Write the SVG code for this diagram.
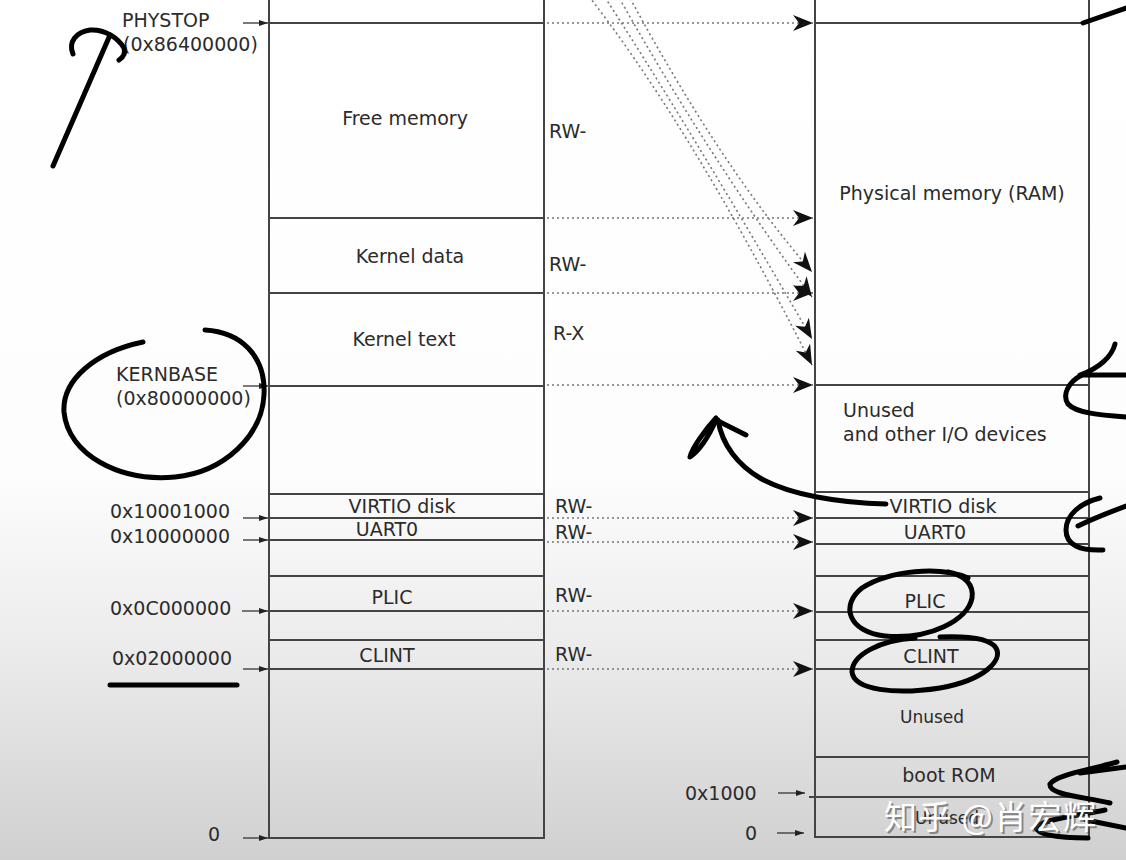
<svg xmlns="http://www.w3.org/2000/svg" width="1126" height="860" viewBox="0 0 1126 860">
<defs>
<linearGradient id="bg" x1="0" y1="0" x2="0" y2="1">
<stop offset="0" stop-color="#ffffff"/>
<stop offset="0.55" stop-color="#fdfdfd"/>
<stop offset="0.75" stop-color="#ececec"/>
<stop offset="1" stop-color="#d0d0d0"/>
</linearGradient>
<marker id="big" markerUnits="userSpaceOnUse" markerWidth="22" markerHeight="16" refX="20" refY="8" orient="auto">
<path d="M0,0 L20,8 L0,16 L6,8 z" fill="#111"/>
</marker>
<marker id="small" markerUnits="userSpaceOnUse" markerWidth="10" markerHeight="8" refX="9" refY="4" orient="auto">
<path d="M0,1 L9,4 L0,7 z" fill="#222"/>
</marker>
<style>
.t{font-family:"DejaVu Sans","Liberation Sans",sans-serif;font-size:19px;fill:#2b2b2b}
.m{text-anchor:middle}
.box{fill:none;stroke:#444;stroke-width:2}
.ln{stroke:#444;stroke-width:2}
.dot{fill:none;stroke:#777;stroke-width:1.6;stroke-dasharray:2 3}
.lab{stroke:#333;stroke-width:1.3}
.hand{fill:none;stroke:#000;stroke-width:5;stroke-linecap:round;stroke-linejoin:round}
.wm{font-family:"Noto Sans CJK SC","Noto Sans",sans-serif;font-size:33px}
</style>
</defs>
<rect x="0" y="0" width="1126" height="860" fill="url(#bg)"/>

<g id="virtual">
<path class="box" d="M269,-5 V838 H544 V-5"/>
<line class="ln" x1="269" y1="23" x2="544" y2="23"/>
<line class="ln" x1="269" y1="218" x2="544" y2="218"/>
<line class="ln" x1="269" y1="293" x2="544" y2="293"/>
<line class="ln" x1="269" y1="386" x2="544" y2="386"/>
<line class="ln" x1="269" y1="494" x2="544" y2="494"/>
<line class="ln" x1="269" y1="518" x2="544" y2="518"/>
<line class="ln" x1="269" y1="540" x2="544" y2="540"/>
<line class="ln" x1="269" y1="576" x2="544" y2="576"/>
<line class="ln" x1="269" y1="611" x2="544" y2="611"/>
<line class="ln" x1="269" y1="640" x2="544" y2="640"/>
<line class="ln" x1="269" y1="669" x2="544" y2="669"/>
</g>

<g id="v-free"><text class="t m" x="405" y="125">Free memory</text><text class="t" x="549" y="138">RW-</text></g>
<g id="v-kdata"><text class="t m" x="410" y="263">Kernel data</text><text class="t" x="549" y="271">RW-</text></g>
<g id="v-ktext"><text class="t m" x="404" y="346">Kernel text</text><text class="t" x="553" y="340">R-X</text></g>
<g id="v-virtio"><text class="t m" x="402" y="513">VIRTIO disk</text><text class="t" x="555" y="513">RW-</text></g>
<g id="v-uart"><text class="t m" x="387" y="536">UART0</text><text class="t" x="555" y="539">RW-</text></g>
<g id="v-plic"><text class="t m" x="392" y="604">PLIC</text><text class="t" x="555" y="602">RW-</text></g>
<g id="v-clint"><text class="t m" x="387" y="662">CLINT</text><text class="t" x="555" y="661">RW-</text></g>

<g id="addr-left">
<text class="t" x="122" y="27">PHYSTOP</text>
<text class="t" x="123" y="51">(0x86400000)</text>
<line class="lab" x1="243" y1="23" x2="268" y2="23" marker-end="url(#small)"/>
<text class="t" x="116" y="381">KERNBASE</text>
<text class="t" x="116" y="405">(0x80000000)</text>
<line class="lab" x1="243" y1="386" x2="268" y2="386" marker-end="url(#small)"/>
<text class="t" x="110" y="518">0x10001000</text>
<line class="lab" x1="243" y1="518" x2="268" y2="518" marker-end="url(#small)"/>
<text class="t" x="110" y="543">0x10000000</text>
<line class="lab" x1="243" y1="540" x2="268" y2="540" marker-end="url(#small)"/>
<text class="t" x="110" y="615">0x0C000000</text>
<line class="lab" x1="242" y1="611" x2="268" y2="611" marker-end="url(#small)"/>
<text class="t" x="112" y="665">0x02000000</text>
<line class="lab" x1="243" y1="669" x2="268" y2="669" marker-end="url(#small)"/>
<text class="t" x="208" y="841">0</text>
<line class="lab" x1="243" y1="838" x2="268" y2="838" marker-end="url(#small)"/>
</g>

<g id="physical">
<path class="box" d="M815,-5 V837 H1089 V-5"/>
<line class="ln" x1="815" y1="23" x2="1089" y2="23"/>
<line class="ln" x1="815" y1="385" x2="1089" y2="385"/>
<line class="ln" x1="815" y1="492" x2="1089" y2="492"/>
<line class="ln" x1="815" y1="518" x2="1089" y2="518"/>
<line class="ln" x1="815" y1="544" x2="1089" y2="544"/>
<line class="ln" x1="815" y1="576" x2="1089" y2="576"/>
<line class="ln" x1="815" y1="612" x2="1089" y2="612"/>
<line class="ln" x1="815" y1="640" x2="1089" y2="640"/>
<line class="ln" x1="815" y1="669" x2="1089" y2="669"/>
<line class="ln" x1="815" y1="757" x2="1089" y2="757"/>
<line class="ln" x1="809" y1="797" x2="1089" y2="797"/>
</g>

<g id="p-ram"><text class="t m" x="952" y="200">Physical memory (RAM)</text></g>
<g id="p-unused-io"><text class="t" x="843" y="417">Unused</text><text class="t" x="843" y="441">and other I/O devices</text></g>
<g id="p-virtio"><text class="t m" x="943" y="513">VIRTIO disk</text></g>
<g id="p-uart"><text class="t m" x="935" y="539">UART0</text></g>
<g id="p-plic"><text class="t m" x="925" y="608">PLIC</text></g>
<g id="p-clint"><text class="t m" x="931" y="663">CLINT</text></g>
<g id="p-unused"><text class="t m" x="932" y="723" style="font-size:17px">Unused</text></g>
<g id="p-bootrom"><text class="t m" x="949" y="782">boot ROM</text></g>
<g id="p-unused0"><text class="t m" x="947" y="824" style="font-size:17px">Unused</text></g>

<g id="addr-right">
<text class="t" x="685" y="800">0x1000</text>
<line class="lab" x1="778" y1="793" x2="805" y2="793" marker-end="url(#small)"/>
<text class="t" x="745" y="840">0</text>
<line class="lab" x1="777" y1="833" x2="804" y2="833" marker-end="url(#small)"/>
</g>

<g id="connectors">
<line class="dot" x1="547" y1="23" x2="813" y2="23" marker-end="url(#big)"/>
<line class="dot" x1="547" y1="218" x2="813" y2="218" marker-end="url(#big)"/>
<line class="dot" x1="547" y1="293" x2="813" y2="293" marker-end="url(#big)"/>
<line class="dot" x1="547" y1="385" x2="813" y2="385" marker-end="url(#big)"/>
<line class="dot" x1="547" y1="518" x2="813" y2="518" marker-end="url(#big)"/>
<line class="dot" x1="547" y1="542" x2="813" y2="542" marker-end="url(#big)"/>
<line class="dot" x1="547" y1="611" x2="813" y2="611" marker-end="url(#big)"/>
<line class="dot" x1="547" y1="669" x2="813" y2="669" marker-end="url(#big)"/>
<path class="dot" d="M580,-15 Q687,119 812,365" marker-end="url(#big)"/>
<path class="dot" d="M597,-15 Q692,131 812,339" marker-end="url(#big)"/>
<path class="dot" d="M612,-15 Q705,152 812,297" marker-end="url(#big)"/>
<path class="dot" d="M623,-15 Q719,165 812,272" marker-end="url(#big)"/>
</g>

<g id="annotations">
<path class="hand" d="M53,166 L110,35"/>
<path class="hand" d="M73,54 C68,42 76,32 90,30 C105,29 118,38 124,48 C126,54 122,58 119,60"/>
<path class="hand" d="M143,342 C95,352 62,380 64,412 C68,455 120,482 175,477 C225,472 262,435 264,395 C266,355 240,332 205,330"/>
<path class="hand" d="M110,685 L237,685"/>
<path class="hand" d="M886,504 C840,503 790,495 760,478 C738,465 722,445 718,420"/>
<path class="hand" d="M716,418 C705,430 692,448 690,457 C700,450 708,438 716,420 L746,435"/>
<path class="hand" d="M1083,23 L1126,8"/>
<path class="hand" d="M1115,344 C1112,356 1100,368 1080,375 L1126,375"/>
<path class="hand" d="M1082,375 C1068,382 1062,395 1068,404 C1076,413 1100,415 1126,417"/>
<path class="hand" d="M1100,498 C1080,503 1066,515 1066,530 C1066,545 1080,551 1103,550"/>
<path class="hand" d="M1078,526 C1090,520 1110,512 1126,506"/>
<path class="hand" d="M1117,762 C1090,770 1055,775 1050,784 C1048,795 1085,797 1110,803"/>
<path class="hand" d="M1080,773 L1126,767"/>
<path class="hand" d="M1105,810 C1080,815 1038,820 1036,828 C1038,836 1065,838 1088,838"/>
<path class="hand" d="M1086,820 L1126,828"/>
<path class="hand" d="M968,578 C940,566 890,570 862,588 C840,605 848,632 885,636 C930,640 968,620 972,598 C974,585 965,575 948,572"/>
<path class="hand" d="M915,638 C880,640 852,655 852,672 C854,690 895,695 940,688 C985,680 1003,660 996,648 C990,638 965,636 940,637"/>
</g>

<g id="watermark">
<text class="wm" x="886" y="831" fill="#444" fill-opacity="0.55" textLength="212" lengthAdjust="spacing">知乎 @肖宏辉</text>
<text class="wm" x="884" y="829" fill="#ffffff" textLength="212" lengthAdjust="spacing">知乎 @肖宏辉</text>
</g>
</svg>
